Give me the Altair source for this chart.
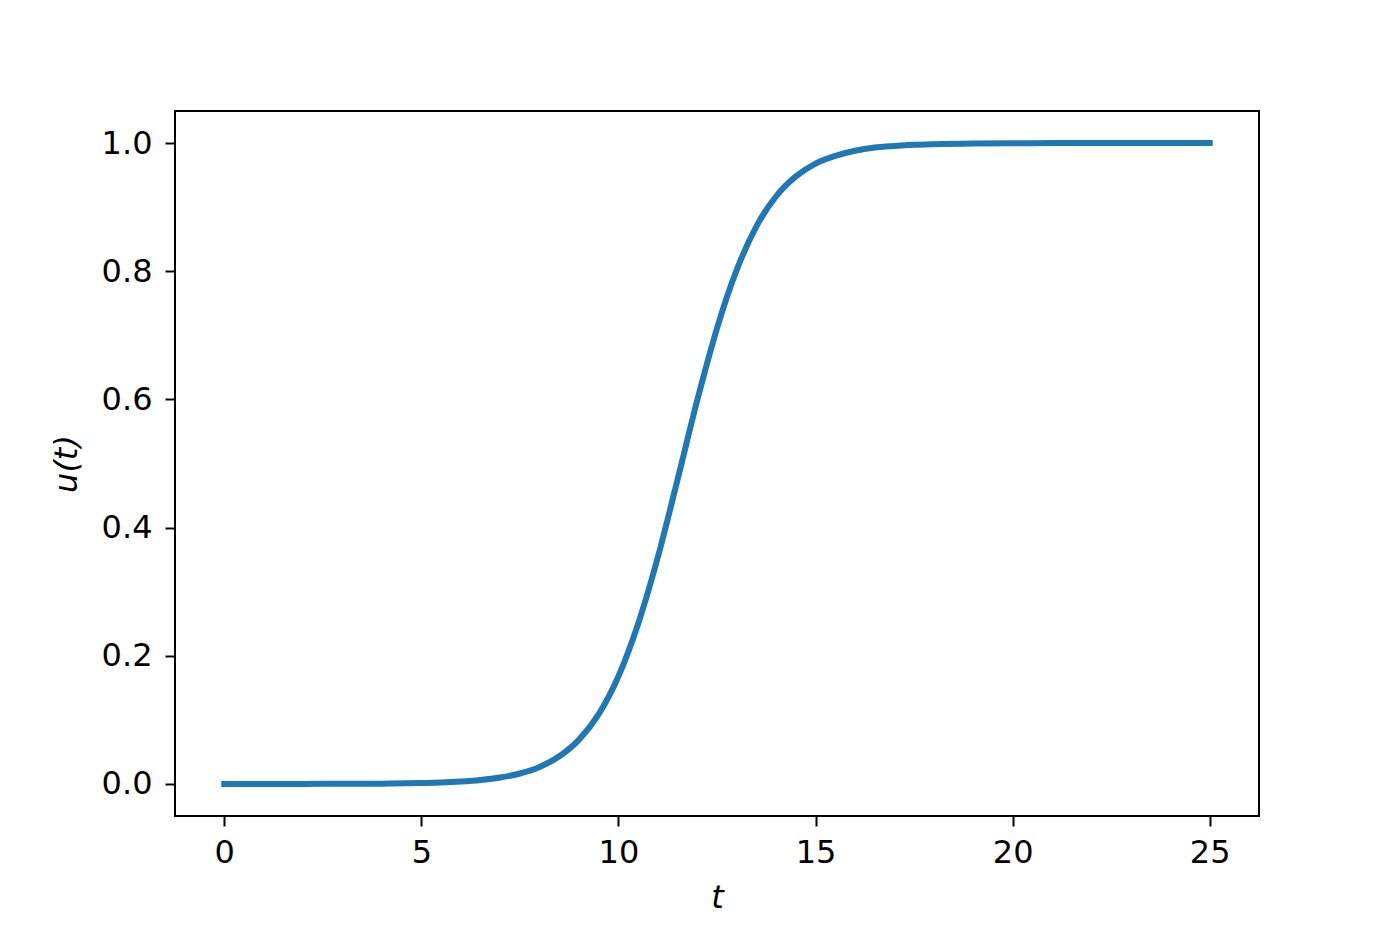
import altair as alt
import pandas as pd

t_vals = [0, 1, 2, 3, 4, 5, 5.5, 6, 6.5, 7, 7.5, 8, 8.5, 9, 9.5, 10, 10.5, 11,
          11.5, 12, 12.5, 13, 13.5, 14, 14.5, 15, 15.5, 16, 16.5, 17, 17.5, 18,
          19, 20, 21, 22, 23, 24, 25]
u_vals = [0.0000, 0.0000, 0.0001, 0.0002, 0.0005, 0.0014, 0.0022, 0.0037, 0.0061,
          0.0100, 0.0163, 0.0266, 0.0431, 0.0691, 0.109, 0.168, 0.250, 0.354,
          0.475, 0.599, 0.711, 0.802, 0.870, 0.917, 0.948, 0.968, 0.980, 0.988,
          0.993, 0.9955, 0.9973, 0.9983, 0.9994, 0.9998, 0.9999, 1.0, 1.0, 1.0, 1.0]

x_ticks = [0, 5, 10, 15, 20, 25]
y_ticks = [0.0, 0.2, 0.4, 0.6, 0.8, 1.0]

df = pd.DataFrame({"t": t_vals, "u": u_vals})

FONT = "DejaVu Sans"

chart = alt.Chart(df).mark_line(
    color="#1f77b4", strokeWidth=6, interpolate="monotone", strokeCap="square"
).encode(
    x=alt.X("t:Q",
            scale=alt.Scale(domain=[-1.25, 26.25], nice=False, zero=False),
            axis=alt.Axis(values=x_ticks, title="t", format="d")),
    y=alt.Y("u:Q",
            scale=alt.Scale(domain=[-0.05, 1.05], nice=False, zero=False),
            axis=alt.Axis(values=y_ticks, title="u(t)", format=".1f")),
).properties(
    width=1084, height=705,
    autosize=alt.AutoSizeParams(type="none"),
    padding={"left": 167, "top": 103, "right": 133, "bottom": 110},
).configure_view(
    stroke="black", strokeWidth=2
).configure_axis(
    grid=False,
    domain=False,
    tickColor="black",
    tickWidth=2,
    tickSize=10,
    labelFont=FONT,
    labelFontSize=32,
    labelColor="black",
    titleFont=FONT,
    titleFontSize=32,
    titleFontStyle="italic",
    titleFontWeight="normal",
    titleColor="black",
).configure_axisX(
    labelPadding=11,
    titlePadding=14,
).configure_axisY(
    labelPadding=13,
    titlePadding=18,
)

chart.save("out.html", embed_options={"renderer": "svg", "actions": False})
